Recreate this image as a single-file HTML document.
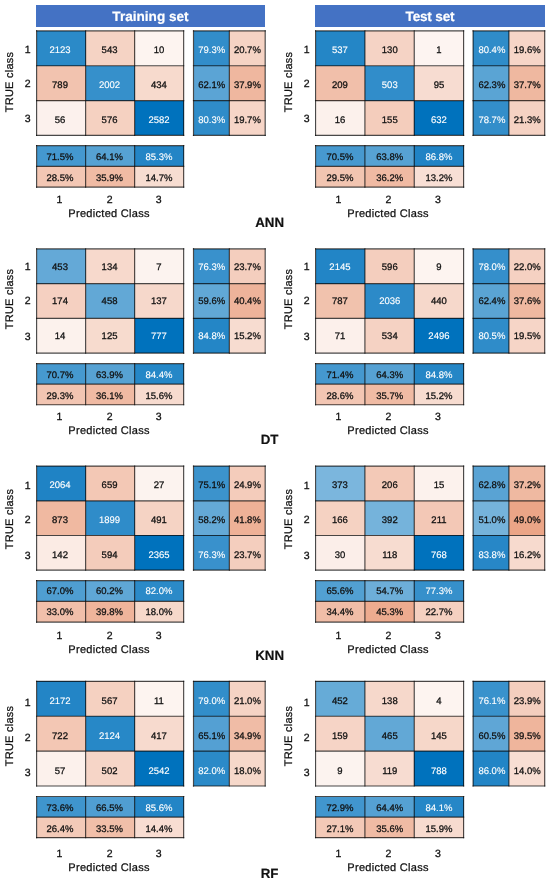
<!DOCTYPE html>
<html lang="en"><head><meta charset="utf-8"><title>Confusion matrices</title>
<style>
html,body{margin:0;padding:0;background:#fff}
body{-webkit-text-stroke:0.18px;text-rendering:geometricPrecision;-webkit-font-smoothing:antialiased;width:550px;height:883px;position:relative;overflow:hidden;font-family:"Liberation Sans",Arial,sans-serif;color:#111}
.c,.t,.h,.l,.g{position:absolute}
.c{font-size:9.5px;display:flex;align-items:center;justify-content:center;color:#111;white-space:nowrap}
.c span{position:relative;top:2.1px;left:0px}
.c{-webkit-text-stroke:0.28px}
.c.w{color:#fff;-webkit-text-stroke:0.12px}
.t{-webkit-text-stroke:0.3px;font-size:10.5px;white-space:nowrap;line-height:12px;height:12px;color:#111}
.x{-webkit-text-stroke:0.25px;font-size:11px;letter-spacing:0.3px;width:120px;text-align:center}
.y{-webkit-text-stroke:0.25px;font-size:11px;letter-spacing:0.25px;width:90px;text-align:center;transform:rotate(-90deg);transform-origin:center center}
.h{background:#4472c4;color:#fff;font-weight:bold;font-size:13.6px;text-align:center;white-space:nowrap}
.l{font-weight:bold;font-size:13.3px;color:#111;white-space:nowrap;text-align:center;width:60px;line-height:14px}
.g{left:0;top:0;pointer-events:none}
.g line{stroke:rgba(10,10,10,0.74);stroke-width:1.15}
</style></head><body>

<div class="h" style="left:36.2px;top:5px;width:228.6px;height:22px;line-height:24px">Training set</div>
<div class="h" style="left:315.1px;top:5px;width:229.7px;height:22px;line-height:24px;letter-spacing:-0.2px">Test set</div>
<!-- ANN / Training set -->
<div class="c w" style="left:36.6px;top:30.9px;width:49.02px;height:34.83px;background:#2b8ac8"><span style="left:-1.1px">2123</span></div>
<div class="c" style="left:85.62px;top:30.9px;width:49.02px;height:34.83px;background:#f5d3c4"><span style="left:-0.6px">543</span></div>
<div class="c" style="left:134.63px;top:30.9px;width:49.02px;height:34.83px;background:#fdf4f0"><span style="left:-0.2px">10</span></div>
<div class="c" style="left:36.6px;top:65.73px;width:49.02px;height:34.83px;background:#f2c3af"><span style="left:-1.1px">789</span></div>
<div class="c w" style="left:85.62px;top:65.73px;width:49.02px;height:34.83px;background:#3690cb"><span style="left:-0.6px">2002</span></div>
<div class="c" style="left:134.63px;top:65.73px;width:49.02px;height:34.83px;background:#f7dacd"><span style="left:-0.2px">434</span></div>
<div class="c" style="left:36.6px;top:100.57px;width:49.02px;height:34.83px;background:#fcf1ed"><span style="left:-1.1px">56</span></div>
<div class="c" style="left:85.62px;top:100.57px;width:49.02px;height:34.83px;background:#f5d1c1"><span style="left:-0.6px">576</span></div>
<div class="c w" style="left:134.63px;top:100.57px;width:49.02px;height:34.83px;background:#0072bd"><span style="left:-0.2px">2582</span></div>
<div class="c w" style="left:193.5px;top:30.9px;width:35.85px;height:34.83px;background:#328dca"><span style="left:0.3px">79.3%</span></div>
<div class="c" style="left:229.35px;top:30.9px;width:35.85px;height:34.83px;background:#f5d3c4"><span style="left:0.1px">20.7%</span></div>
<div class="c" style="left:193.5px;top:65.73px;width:35.85px;height:34.83px;background:#5ba4d5"><span style="left:0.3px">62.1%</span></div>
<div class="c" style="left:229.35px;top:65.73px;width:35.85px;height:34.83px;background:#efb79f"><span style="left:0.1px">37.9%</span></div>
<div class="c w" style="left:193.5px;top:100.57px;width:35.85px;height:34.83px;background:#2f8cc9"><span style="left:0.3px">80.3%</span></div>
<div class="c" style="left:229.35px;top:100.57px;width:35.85px;height:34.83px;background:#f6d5c7"><span style="left:0.1px">19.7%</span></div>
<div class="c" style="left:36.6px;top:145.6px;width:49.02px;height:20.75px;background:#4498cf"><span style="top:1.3px;left:-1.1px">71.5%</span></div>
<div class="c" style="left:85.62px;top:145.6px;width:49.02px;height:20.75px;background:#56a2d3"><span style="top:1.3px;left:-0.6px">64.1%</span></div>
<div class="c w" style="left:134.63px;top:145.6px;width:49.02px;height:20.75px;background:#2385c6"><span style="top:1.3px;left:-0.2px">85.3%</span></div>
<div class="c" style="left:36.6px;top:166.35px;width:49.02px;height:20.75px;background:#f3c7b4"><span style="top:1.3px;left:-1.1px">28.5%</span></div>
<div class="c" style="left:85.62px;top:166.35px;width:49.02px;height:20.75px;background:#f0bba4"><span style="top:1.3px;left:-0.6px">35.9%</span></div>
<div class="c" style="left:134.63px;top:166.35px;width:49.02px;height:20.75px;background:#f7ddd1"><span style="top:1.3px;left:-0.2px">14.7%</span></div>
<div class="t" style="left:10.6px;top:43.92px;width:20px;text-align:right">1</div>
<div class="t" style="left:10.6px;top:77.85px;width:20px;text-align:right">2</div>
<div class="t" style="left:10.6px;top:113.18px;width:20px;text-align:right">3</div>
<div class="t" style="left:49.41px;top:193.5px;width:20px;text-align:center">1</div>
<div class="t" style="left:99.73px;top:193.5px;width:20px;text-align:center">2</div>
<div class="t" style="left:148.74px;top:193.5px;width:20px;text-align:center">3</div>
<div class="t x" style="left:49.12px;top:208.1px">Predicted Class</div>
<div class="t y" style="left:-35.4px;top:76.35px">TRUE class</div>
<!-- ANN / Test set -->
<div class="c w" style="left:315.55px;top:30.9px;width:49.35px;height:34.83px;background:#2486c6"><span style="left:-0.3px">537</span></div>
<div class="c" style="left:364.9px;top:30.9px;width:49.35px;height:34.83px;background:#f5d3c5"><span style="left:0.2px">130</span></div>
<div class="c" style="left:414.25px;top:30.9px;width:49.35px;height:34.83px;background:#fdf4f1"><span>1</span></div>
<div class="c" style="left:315.55px;top:65.73px;width:49.35px;height:34.83px;background:#f1bfaa"><span style="left:-0.3px">209</span></div>
<div class="c w" style="left:364.9px;top:65.73px;width:49.35px;height:34.83px;background:#318dca"><span style="left:0.2px">503</span></div>
<div class="c" style="left:414.25px;top:65.73px;width:49.35px;height:34.83px;background:#f7dcd1"><span>95</span></div>
<div class="c" style="left:315.55px;top:100.57px;width:49.35px;height:34.83px;background:#fcf1ec"><span style="left:-0.3px">16</span></div>
<div class="c" style="left:364.9px;top:100.57px;width:49.35px;height:34.83px;background:#f4cdbc"><span style="left:0.2px">155</span></div>
<div class="c w" style="left:414.25px;top:100.57px;width:49.35px;height:34.83px;background:#0072bd"><span>632</span></div>
<div class="c w" style="left:473.1px;top:30.9px;width:35.8px;height:34.83px;background:#2f8cc9"><span style="left:0.9px">80.4%</span></div>
<div class="c" style="left:508.9px;top:30.9px;width:35.8px;height:34.83px;background:#f6d5c7"><span style="left:0.4px">19.6%</span></div>
<div class="c" style="left:473.1px;top:65.73px;width:35.8px;height:34.83px;background:#5aa4d4"><span style="left:0.9px">62.3%</span></div>
<div class="c" style="left:508.9px;top:65.73px;width:35.8px;height:34.83px;background:#efb8a0"><span style="left:0.4px">37.7%</span></div>
<div class="c w" style="left:473.1px;top:100.57px;width:35.8px;height:34.83px;background:#338eca"><span style="left:0.9px">78.7%</span></div>
<div class="c" style="left:508.9px;top:100.57px;width:35.8px;height:34.83px;background:#f5d2c3"><span style="left:0.4px">21.3%</span></div>
<div class="c" style="left:315.55px;top:145.6px;width:49.35px;height:20.75px;background:#4799cf"><span style="top:1.3px;left:-0.3px">70.5%</span></div>
<div class="c" style="left:364.9px;top:145.6px;width:49.35px;height:20.75px;background:#57a2d3"><span style="top:1.3px;left:0.2px">63.8%</span></div>
<div class="c w" style="left:414.25px;top:145.6px;width:49.35px;height:20.75px;background:#2083c5"><span style="top:1.3px">86.8%</span></div>
<div class="c" style="left:315.55px;top:166.35px;width:49.35px;height:20.75px;background:#f2c5b1"><span style="top:1.3px;left:-0.3px">29.5%</span></div>
<div class="c" style="left:364.9px;top:166.35px;width:49.35px;height:20.75px;background:#f0baa3"><span style="top:1.3px;left:0.2px">36.2%</span></div>
<div class="c" style="left:414.25px;top:166.35px;width:49.35px;height:20.75px;background:#f8dfd5"><span style="top:1.3px">13.2%</span></div>
<div class="t" style="left:289.55px;top:43.92px;width:20px;text-align:right">1</div>
<div class="t" style="left:289.55px;top:77.85px;width:20px;text-align:right">2</div>
<div class="t" style="left:289.55px;top:113.18px;width:20px;text-align:right">3</div>
<div class="t" style="left:328.43px;top:193.5px;width:20px;text-align:center">1</div>
<div class="t" style="left:378.38px;top:193.5px;width:20px;text-align:center">2</div>
<div class="t" style="left:427.93px;top:193.5px;width:20px;text-align:center">3</div>
<div class="t x" style="left:328.08px;top:208.1px">Predicted Class</div>
<div class="t y" style="left:243.55px;top:76.35px">TRUE class</div>
<div class="l" style="left:239.6px;top:216.4px">ANN</div>
<!-- DT / Training set -->
<div class="c" style="left:36.6px;top:248.8px;width:49.02px;height:34.78px;background:#64a9d7"><span style="top:0.9px;left:-1.1px">453</span></div>
<div class="c" style="left:85.62px;top:248.8px;width:49.02px;height:34.78px;background:#f7d9cc"><span style="top:0.9px;left:-0.6px">134</span></div>
<div class="c" style="left:134.63px;top:248.8px;width:49.02px;height:34.78px;background:#fcf3ef"><span style="top:0.9px;left:-0.2px">7</span></div>
<div class="c" style="left:36.6px;top:283.58px;width:49.02px;height:34.78px;background:#f5d0c1"><span style="top:0.9px;left:-1.1px">174</span></div>
<div class="c" style="left:85.62px;top:283.58px;width:49.02px;height:34.78px;background:#62a8d6"><span style="top:0.9px;left:-0.6px">458</span></div>
<div class="c" style="left:134.63px;top:283.58px;width:49.02px;height:34.78px;background:#f6d8cb"><span style="top:0.9px;left:-0.2px">137</span></div>
<div class="c" style="left:36.6px;top:318.37px;width:49.02px;height:34.78px;background:#fcf2ed"><span style="top:0.9px;left:-1.1px">14</span></div>
<div class="c" style="left:85.62px;top:318.37px;width:49.02px;height:34.78px;background:#f7dbce"><span style="top:0.9px;left:-0.6px">125</span></div>
<div class="c w" style="left:134.63px;top:318.37px;width:49.02px;height:34.78px;background:#0072bd"><span style="top:0.9px;left:-0.2px">777</span></div>
<div class="c w" style="left:193.5px;top:248.8px;width:35.85px;height:34.78px;background:#3991cc"><span style="top:0.9px;left:0.3px">76.3%</span></div>
<div class="c" style="left:229.35px;top:248.8px;width:35.85px;height:34.78px;background:#f4cebe"><span style="top:0.9px;left:0.1px">23.7%</span></div>
<div class="c" style="left:193.5px;top:283.58px;width:35.85px;height:34.78px;background:#61a8d6"><span style="top:0.9px;left:0.3px">59.6%</span></div>
<div class="c" style="left:229.35px;top:283.58px;width:35.85px;height:34.78px;background:#eeb39a"><span style="top:0.9px;left:0.1px">40.4%</span></div>
<div class="c w" style="left:193.5px;top:318.37px;width:35.85px;height:34.78px;background:#2486c6"><span style="top:0.9px;left:0.3px">84.8%</span></div>
<div class="c" style="left:229.35px;top:318.37px;width:35.85px;height:34.78px;background:#f7dcd0"><span style="top:0.9px;left:0.1px">15.2%</span></div>
<div class="c" style="left:36.6px;top:363.6px;width:49.02px;height:20.57px;background:#4699cf"><span style="top:1.7px;left:-1.1px">70.7%</span></div>
<div class="c" style="left:85.62px;top:363.6px;width:49.02px;height:20.57px;background:#57a2d3"><span style="top:1.7px;left:-0.6px">63.9%</span></div>
<div class="c w" style="left:134.63px;top:363.6px;width:49.02px;height:20.57px;background:#2587c7"><span style="top:1.7px;left:-0.2px">84.4%</span></div>
<div class="c" style="left:36.6px;top:384.18px;width:49.02px;height:20.57px;background:#f2c5b2"><span style="top:1.7px;left:-1.1px">29.3%</span></div>
<div class="c" style="left:85.62px;top:384.18px;width:49.02px;height:20.57px;background:#f0baa3"><span style="top:1.7px;left:-0.6px">36.1%</span></div>
<div class="c" style="left:134.63px;top:384.18px;width:49.02px;height:20.57px;background:#f7dbcf"><span style="top:1.7px;left:-0.2px">15.6%</span></div>
<div class="t" style="left:10.6px;top:261.09px;width:20px;text-align:right">1</div>
<div class="t" style="left:10.6px;top:294.68px;width:20px;text-align:right">2</div>
<div class="t" style="left:10.6px;top:330.61px;width:20px;text-align:right">3</div>
<div class="t" style="left:49.41px;top:410.8px;width:20px;text-align:center">1</div>
<div class="t" style="left:99.73px;top:410.8px;width:20px;text-align:center">2</div>
<div class="t" style="left:148.74px;top:410.8px;width:20px;text-align:center">3</div>
<div class="t x" style="left:49.12px;top:425.1px">Predicted Class</div>
<div class="t y" style="left:-35.4px;top:292.78px">TRUE class</div>
<!-- DT / Test set -->
<div class="c w" style="left:315.55px;top:248.8px;width:49.35px;height:34.78px;background:#2285c6"><span style="top:0.9px;left:-0.3px">2145</span></div>
<div class="c" style="left:364.9px;top:248.8px;width:49.35px;height:34.78px;background:#f4cebe"><span style="top:0.9px;left:0.2px">596</span></div>
<div class="c" style="left:414.25px;top:248.8px;width:49.35px;height:34.78px;background:#fdf4f0"><span style="top:0.9px">9</span></div>
<div class="c" style="left:315.55px;top:283.58px;width:49.35px;height:34.78px;background:#f1c2ad"><span style="top:0.9px;left:-0.3px">787</span></div>
<div class="c w" style="left:364.9px;top:283.58px;width:49.35px;height:34.78px;background:#2c8ac8"><span style="top:0.9px;left:0.2px">2036</span></div>
<div class="c" style="left:414.25px;top:283.58px;width:49.35px;height:34.78px;background:#f6d8cb"><span style="top:0.9px">440</span></div>
<div class="c" style="left:315.55px;top:318.37px;width:49.35px;height:34.78px;background:#fcf0eb"><span style="top:0.9px;left:-0.3px">71</span></div>
<div class="c" style="left:364.9px;top:318.37px;width:49.35px;height:34.78px;background:#f5d2c3"><span style="top:0.9px;left:0.2px">534</span></div>
<div class="c w" style="left:414.25px;top:318.37px;width:49.35px;height:34.78px;background:#0072bd"><span style="top:0.9px">2496</span></div>
<div class="c w" style="left:473.1px;top:248.8px;width:35.8px;height:34.78px;background:#358fcb"><span style="top:0.9px;left:0.9px">78.0%</span></div>
<div class="c" style="left:508.9px;top:248.8px;width:35.8px;height:34.78px;background:#f5d1c2"><span style="top:0.9px;left:0.4px">22.0%</span></div>
<div class="c" style="left:473.1px;top:283.58px;width:35.8px;height:34.78px;background:#5aa4d4"><span style="top:0.9px;left:0.9px">62.4%</span></div>
<div class="c" style="left:508.9px;top:283.58px;width:35.8px;height:34.78px;background:#efb8a0"><span style="top:0.9px;left:0.4px">37.6%</span></div>
<div class="c w" style="left:473.1px;top:318.37px;width:35.8px;height:34.78px;background:#2f8cc9"><span style="top:0.9px;left:0.9px">80.5%</span></div>
<div class="c" style="left:508.9px;top:318.37px;width:35.8px;height:34.78px;background:#f6d5c7"><span style="top:0.9px;left:0.4px">19.5%</span></div>
<div class="c" style="left:315.55px;top:363.6px;width:49.35px;height:20.57px;background:#4598cf"><span style="top:1.7px;left:-0.3px">71.4%</span></div>
<div class="c" style="left:364.9px;top:363.6px;width:49.35px;height:20.57px;background:#56a1d3"><span style="top:1.7px;left:0.2px">64.3%</span></div>
<div class="c w" style="left:414.25px;top:363.6px;width:49.35px;height:20.57px;background:#2486c6"><span style="top:1.7px">84.8%</span></div>
<div class="c" style="left:315.55px;top:384.18px;width:49.35px;height:20.57px;background:#f3c6b3"><span style="top:1.7px;left:-0.3px">28.6%</span></div>
<div class="c" style="left:364.9px;top:384.18px;width:49.35px;height:20.57px;background:#f0bba4"><span style="top:1.7px;left:0.2px">35.7%</span></div>
<div class="c" style="left:414.25px;top:384.18px;width:49.35px;height:20.57px;background:#f7dcd0"><span style="top:1.7px">15.2%</span></div>
<div class="t" style="left:289.55px;top:261.09px;width:20px;text-align:right">1</div>
<div class="t" style="left:289.55px;top:294.68px;width:20px;text-align:right">2</div>
<div class="t" style="left:289.55px;top:330.61px;width:20px;text-align:right">3</div>
<div class="t" style="left:328.43px;top:410.8px;width:20px;text-align:center">1</div>
<div class="t" style="left:378.38px;top:410.8px;width:20px;text-align:center">2</div>
<div class="t" style="left:427.93px;top:410.8px;width:20px;text-align:center">3</div>
<div class="t x" style="left:328.08px;top:425.1px">Predicted Class</div>
<div class="t y" style="left:243.55px;top:292.78px">TRUE class</div>
<div class="l" style="left:239.6px;top:433.4px">DT</div>
<!-- KNN / Training set -->
<div class="c w" style="left:36.6px;top:466.15px;width:49.02px;height:34.65px;background:#1f83c5"><span style="top:2.5px;left:-1.1px">2064</span></div>
<div class="c" style="left:85.62px;top:466.15px;width:49.02px;height:34.65px;background:#f3c8b5"><span style="top:2.5px;left:-0.6px">659</span></div>
<div class="c" style="left:134.63px;top:466.15px;width:49.02px;height:34.65px;background:#fcf3ef"><span style="top:2.5px;left:-0.2px">27</span></div>
<div class="c" style="left:36.6px;top:500.8px;width:49.02px;height:34.65px;background:#f0b9a1"><span style="top:2.5px;left:-1.1px">873</span></div>
<div class="c w" style="left:85.62px;top:500.8px;width:49.02px;height:34.65px;background:#2f8cc9"><span style="top:2.5px;left:-0.6px">1899</span></div>
<div class="c" style="left:134.63px;top:500.8px;width:49.02px;height:34.65px;background:#f5d3c4"><span style="top:2.5px;left:-0.2px">491</span></div>
<div class="c" style="left:36.6px;top:535.45px;width:49.02px;height:34.65px;background:#fbebe4"><span style="top:2.5px;left:-1.1px">142</span></div>
<div class="c" style="left:85.62px;top:535.45px;width:49.02px;height:34.65px;background:#f4ccbb"><span style="top:2.5px;left:-0.6px">594</span></div>
<div class="c w" style="left:134.63px;top:535.45px;width:49.02px;height:34.65px;background:#0072bd"><span style="top:2.5px;left:-0.2px">2365</span></div>
<div class="c" style="left:193.5px;top:466.15px;width:35.85px;height:34.65px;background:#3c93cc"><span style="top:2.5px;left:0.3px">75.1%</span></div>
<div class="c" style="left:229.35px;top:466.15px;width:35.85px;height:34.65px;background:#f4ccbb"><span style="top:2.5px;left:0.1px">24.9%</span></div>
<div class="c" style="left:193.5px;top:500.8px;width:35.85px;height:34.65px;background:#64a9d7"><span style="top:2.5px;left:0.3px">58.2%</span></div>
<div class="c" style="left:229.35px;top:500.8px;width:35.85px;height:34.65px;background:#eeb197"><span style="top:2.5px;left:0.1px">41.8%</span></div>
<div class="c w" style="left:193.5px;top:535.45px;width:35.85px;height:34.65px;background:#3991cc"><span style="top:2.5px;left:0.3px">76.3%</span></div>
<div class="c" style="left:229.35px;top:535.45px;width:35.85px;height:34.65px;background:#f4cebe"><span style="top:2.5px;left:0.1px">23.7%</span></div>
<div class="c" style="left:36.6px;top:580.6px;width:49.02px;height:20.75px;background:#4f9ed1"><span style="top:0.6px;left:-1.1px">67.0%</span></div>
<div class="c" style="left:85.62px;top:580.6px;width:49.02px;height:20.75px;background:#5fa7d6"><span style="top:0.6px;left:-0.6px">60.2%</span></div>
<div class="c w" style="left:134.63px;top:580.6px;width:49.02px;height:20.75px;background:#2b8ac8"><span style="top:0.6px;left:-0.2px">82.0%</span></div>
<div class="c" style="left:36.6px;top:601.35px;width:49.02px;height:20.75px;background:#f1bfaa"><span style="top:0.6px;left:-1.1px">33.0%</span></div>
<div class="c" style="left:85.62px;top:601.35px;width:49.02px;height:20.75px;background:#efb49b"><span style="top:0.6px;left:-0.6px">39.8%</span></div>
<div class="c" style="left:134.63px;top:601.35px;width:49.02px;height:20.75px;background:#f6d8ca"><span style="top:0.6px;left:-0.2px">18.0%</span></div>
<div class="t" style="left:10.6px;top:480.08px;width:20px;text-align:right">1</div>
<div class="t" style="left:10.6px;top:514.18px;width:20px;text-align:right">2</div>
<div class="t" style="left:10.6px;top:549.68px;width:20px;text-align:right">3</div>
<div class="t" style="left:49.41px;top:629.65px;width:20px;text-align:center">1</div>
<div class="t" style="left:99.73px;top:629.65px;width:20px;text-align:center">2</div>
<div class="t" style="left:148.74px;top:629.65px;width:20px;text-align:center">3</div>
<div class="t x" style="left:49.12px;top:644.45px">Predicted Class</div>
<div class="t y" style="left:-35.4px;top:513.12px">TRUE class</div>
<!-- KNN / Test set -->
<div class="c" style="left:315.55px;top:466.15px;width:49.35px;height:34.65px;background:#7bb6dd"><span style="top:2.5px;left:-0.3px">373</span></div>
<div class="c" style="left:364.9px;top:466.15px;width:49.35px;height:34.65px;background:#f3c9b7"><span style="top:2.5px;left:0.2px">206</span></div>
<div class="c" style="left:414.25px;top:466.15px;width:49.35px;height:34.65px;background:#fcf2ed"><span style="top:2.5px">15</span></div>
<div class="c" style="left:315.55px;top:500.8px;width:49.35px;height:34.65px;background:#f5d2c2"><span style="top:2.5px;left:-0.3px">166</span></div>
<div class="c" style="left:364.9px;top:500.8px;width:49.35px;height:34.65px;background:#75b3db"><span style="top:2.5px;left:0.2px">392</span></div>
<div class="c" style="left:414.25px;top:500.8px;width:49.35px;height:34.65px;background:#f3c8b6"><span style="top:2.5px">211</span></div>
<div class="c" style="left:315.55px;top:535.45px;width:49.35px;height:34.65px;background:#fbeee9"><span style="top:2.5px;left:-0.3px">30</span></div>
<div class="c" style="left:364.9px;top:535.45px;width:49.35px;height:34.65px;background:#f7dcd0"><span style="top:2.5px;left:0.2px">118</span></div>
<div class="c w" style="left:414.25px;top:535.45px;width:49.35px;height:34.65px;background:#0072bd"><span style="top:2.5px">768</span></div>
<div class="c" style="left:473.1px;top:466.15px;width:35.8px;height:34.65px;background:#59a3d4"><span style="top:2.5px;left:0.9px">62.8%</span></div>
<div class="c" style="left:508.9px;top:466.15px;width:35.8px;height:34.65px;background:#efb9a1"><span style="top:2.5px;left:0.4px">37.2%</span></div>
<div class="c" style="left:473.1px;top:500.8px;width:35.8px;height:34.65px;background:#75b3db"><span style="top:2.5px;left:0.9px">51.0%</span></div>
<div class="c" style="left:508.9px;top:500.8px;width:35.8px;height:34.65px;background:#eba587"><span style="top:2.5px;left:0.4px">49.0%</span></div>
<div class="c w" style="left:473.1px;top:535.45px;width:35.8px;height:34.65px;background:#2787c7"><span style="top:2.5px;left:0.9px">83.8%</span></div>
<div class="c" style="left:508.9px;top:535.45px;width:35.8px;height:34.65px;background:#f7dace"><span style="top:2.5px;left:0.4px">16.2%</span></div>
<div class="c" style="left:315.55px;top:580.6px;width:49.35px;height:20.75px;background:#52a0d2"><span style="top:0.6px;left:-0.3px">65.6%</span></div>
<div class="c" style="left:364.9px;top:580.6px;width:49.35px;height:20.75px;background:#6daed9"><span style="top:0.6px;left:0.2px">54.7%</span></div>
<div class="c w" style="left:414.25px;top:580.6px;width:49.35px;height:20.75px;background:#3690cb"><span style="top:0.6px">77.3%</span></div>
<div class="c" style="left:315.55px;top:601.35px;width:49.35px;height:20.75px;background:#f0bda7"><span style="top:0.6px;left:-0.3px">34.4%</span></div>
<div class="c" style="left:364.9px;top:601.35px;width:49.35px;height:20.75px;background:#edab8f"><span style="top:0.6px;left:0.2px">45.3%</span></div>
<div class="c" style="left:414.25px;top:601.35px;width:49.35px;height:20.75px;background:#f5d0c0"><span style="top:0.6px">22.7%</span></div>
<div class="t" style="left:289.55px;top:480.08px;width:20px;text-align:right">1</div>
<div class="t" style="left:289.55px;top:514.18px;width:20px;text-align:right">2</div>
<div class="t" style="left:289.55px;top:549.68px;width:20px;text-align:right">3</div>
<div class="t" style="left:328.43px;top:629.65px;width:20px;text-align:center">1</div>
<div class="t" style="left:378.38px;top:629.65px;width:20px;text-align:center">2</div>
<div class="t" style="left:427.93px;top:629.65px;width:20px;text-align:center">3</div>
<div class="t x" style="left:328.08px;top:644.45px">Predicted Class</div>
<div class="t y" style="left:243.55px;top:513.12px">TRUE class</div>
<div class="l" style="left:239.6px;top:648.5px">KNN</div>
<!-- RF / Training set -->
<div class="c w" style="left:36.6px;top:681.4px;width:49.02px;height:34.85px;background:#2385c6"><span style="top:3px;left:-1.1px">2172</span></div>
<div class="c" style="left:85.62px;top:681.4px;width:49.02px;height:34.85px;background:#f5d1c1"><span style="top:3px;left:-0.6px">567</span></div>
<div class="c" style="left:134.63px;top:681.4px;width:49.02px;height:34.85px;background:#fdf4f0"><span style="top:3px;left:-0.2px">11</span></div>
<div class="c" style="left:36.6px;top:716.25px;width:49.02px;height:34.85px;background:#f3c7b4"><span style="top:3px;left:-1.1px">722</span></div>
<div class="c w" style="left:85.62px;top:716.25px;width:49.02px;height:34.85px;background:#2788c7"><span style="top:3px;left:-0.6px">2124</span></div>
<div class="c" style="left:134.63px;top:716.25px;width:49.02px;height:34.85px;background:#f7dace"><span style="top:3px;left:-0.2px">417</span></div>
<div class="c" style="left:36.6px;top:751.1px;width:49.02px;height:34.85px;background:#fcf1ec"><span style="top:3px;left:-1.1px">57</span></div>
<div class="c" style="left:85.62px;top:751.1px;width:49.02px;height:34.85px;background:#f6d5c7"><span style="top:3px;left:-0.6px">502</span></div>
<div class="c w" style="left:134.63px;top:751.1px;width:49.02px;height:34.85px;background:#0072bd"><span style="top:3px;left:-0.2px">2542</span></div>
<div class="c w" style="left:193.5px;top:681.4px;width:35.85px;height:34.85px;background:#328eca"><span style="top:3px;left:0.3px">79.0%</span></div>
<div class="c" style="left:229.35px;top:681.4px;width:35.85px;height:34.85px;background:#f5d3c4"><span style="top:3px;left:0.1px">21.0%</span></div>
<div class="c" style="left:193.5px;top:716.25px;width:35.85px;height:34.85px;background:#54a0d3"><span style="top:3px;left:0.3px">65.1%</span></div>
<div class="c" style="left:229.35px;top:716.25px;width:35.85px;height:34.85px;background:#f0bca6"><span style="top:3px;left:0.1px">34.9%</span></div>
<div class="c w" style="left:193.5px;top:751.1px;width:35.85px;height:34.85px;background:#2b8ac8"><span style="top:3px;left:0.3px">82.0%</span></div>
<div class="c" style="left:229.35px;top:751.1px;width:35.85px;height:34.85px;background:#f6d8ca"><span style="top:3px;left:0.1px">18.0%</span></div>
<div class="c" style="left:36.6px;top:796.5px;width:49.02px;height:20.55px;background:#3f95cd"><span style="top:1.8px;left:-1.1px">73.6%</span></div>
<div class="c" style="left:85.62px;top:796.5px;width:49.02px;height:20.55px;background:#509ed2"><span style="top:1.8px;left:-0.6px">66.5%</span></div>
<div class="c w" style="left:134.63px;top:796.5px;width:49.02px;height:20.55px;background:#2385c6"><span style="top:1.8px;left:-0.2px">85.6%</span></div>
<div class="c" style="left:36.6px;top:817.05px;width:49.02px;height:20.55px;background:#f3cab8"><span style="top:1.8px;left:-1.1px">26.4%</span></div>
<div class="c" style="left:85.62px;top:817.05px;width:49.02px;height:20.55px;background:#f1bfa9"><span style="top:1.8px;left:-0.6px">33.5%</span></div>
<div class="c" style="left:134.63px;top:817.05px;width:49.02px;height:20.55px;background:#f8ddd2"><span style="top:1.8px;left:-0.2px">14.4%</span></div>
<div class="t" style="left:10.6px;top:697.33px;width:20px;text-align:right">1</div>
<div class="t" style="left:10.6px;top:731.57px;width:20px;text-align:right">2</div>
<div class="t" style="left:10.6px;top:767.13px;width:20px;text-align:right">3</div>
<div class="t" style="left:49.41px;top:847.6px;width:20px;text-align:center">1</div>
<div class="t" style="left:99.73px;top:847.6px;width:20px;text-align:center">2</div>
<div class="t" style="left:148.74px;top:847.6px;width:20px;text-align:center">3</div>
<div class="t x" style="left:49.12px;top:862.2px">Predicted Class</div>
<div class="t y" style="left:-35.4px;top:729.57px">TRUE class</div>
<!-- RF / Test set -->
<div class="c" style="left:315.55px;top:681.4px;width:49.35px;height:34.85px;background:#66abd7"><span style="top:3px;left:-0.3px">452</span></div>
<div class="c" style="left:364.9px;top:681.4px;width:49.35px;height:34.85px;background:#f6d8cb"><span style="top:3px;left:0.2px">138</span></div>
<div class="c" style="left:414.25px;top:681.4px;width:49.35px;height:34.85px;background:#fdf4f0"><span style="top:3px">4</span></div>
<div class="c" style="left:315.55px;top:716.25px;width:49.35px;height:34.85px;background:#f6d4c6"><span style="top:3px;left:-0.3px">159</span></div>
<div class="c" style="left:364.9px;top:716.25px;width:49.35px;height:34.85px;background:#62a8d6"><span style="top:3px;left:0.2px">465</span></div>
<div class="c" style="left:414.25px;top:716.25px;width:49.35px;height:34.85px;background:#f6d7c9"><span style="top:3px">145</span></div>
<div class="c" style="left:315.55px;top:751.1px;width:49.35px;height:34.85px;background:#fcf3ef"><span style="top:3px;left:-0.3px">9</span></div>
<div class="c" style="left:364.9px;top:751.1px;width:49.35px;height:34.85px;background:#f7dcd1"><span style="top:3px;left:0.2px">119</span></div>
<div class="c w" style="left:414.25px;top:751.1px;width:49.35px;height:34.85px;background:#0072bd"><span style="top:3px">788</span></div>
<div class="c w" style="left:473.1px;top:681.4px;width:35.8px;height:34.85px;background:#3992cc"><span style="top:3px;left:0.9px">76.1%</span></div>
<div class="c" style="left:508.9px;top:681.4px;width:35.8px;height:34.85px;background:#f4cebe"><span style="top:3px;left:0.4px">23.9%</span></div>
<div class="c" style="left:473.1px;top:716.25px;width:35.8px;height:34.85px;background:#5fa6d6"><span style="top:3px;left:0.9px">60.5%</span></div>
<div class="c" style="left:508.9px;top:716.25px;width:35.8px;height:34.85px;background:#efb59c"><span style="top:3px;left:0.4px">39.5%</span></div>
<div class="c w" style="left:473.1px;top:751.1px;width:35.8px;height:34.85px;background:#2285c6"><span style="top:3px;left:0.9px">86.0%</span></div>
<div class="c" style="left:508.9px;top:751.1px;width:35.8px;height:34.85px;background:#f8ded3"><span style="top:3px;left:0.4px">14.0%</span></div>
<div class="c" style="left:315.55px;top:796.5px;width:49.35px;height:20.55px;background:#4196ce"><span style="top:1.8px;left:-0.3px">72.9%</span></div>
<div class="c" style="left:364.9px;top:796.5px;width:49.35px;height:20.55px;background:#55a1d3"><span style="top:1.8px;left:0.2px">64.4%</span></div>
<div class="c w" style="left:414.25px;top:796.5px;width:49.35px;height:20.55px;background:#2687c7"><span style="top:1.8px">84.1%</span></div>
<div class="c" style="left:315.55px;top:817.05px;width:49.35px;height:20.55px;background:#f3c9b7"><span style="top:1.8px;left:-0.3px">27.1%</span></div>
<div class="c" style="left:364.9px;top:817.05px;width:49.35px;height:20.55px;background:#f0bba4"><span style="top:1.8px;left:0.2px">35.6%</span></div>
<div class="c" style="left:414.25px;top:817.05px;width:49.35px;height:20.55px;background:#f7dbcf"><span style="top:1.8px">15.9%</span></div>
<div class="t" style="left:289.55px;top:697.33px;width:20px;text-align:right">1</div>
<div class="t" style="left:289.55px;top:731.57px;width:20px;text-align:right">2</div>
<div class="t" style="left:289.55px;top:767.13px;width:20px;text-align:right">3</div>
<div class="t" style="left:328.43px;top:847.6px;width:20px;text-align:center">1</div>
<div class="t" style="left:378.38px;top:847.6px;width:20px;text-align:center">2</div>
<div class="t" style="left:427.93px;top:847.6px;width:20px;text-align:center">3</div>
<div class="t x" style="left:328.08px;top:862.2px">Predicted Class</div>
<div class="t y" style="left:243.55px;top:729.57px">TRUE class</div>
<div class="l" style="left:239.6px;top:866.8px">RF</div>
<svg class="g" width="550" height="883" viewBox="0 0 550 883">
<line x1="36.6" y1="30.32" x2="36.6" y2="135.97"/>
<line x1="85.62" y1="30.32" x2="85.62" y2="135.97"/>
<line x1="134.63" y1="30.32" x2="134.63" y2="135.97"/>
<line x1="183.65" y1="30.32" x2="183.65" y2="135.97"/>
<line x1="36.02" y1="30.9" x2="184.22" y2="30.9"/>
<line x1="36.02" y1="65.73" x2="184.22" y2="65.73"/>
<line x1="36.02" y1="100.57" x2="184.22" y2="100.57"/>
<line x1="36.02" y1="135.4" x2="184.22" y2="135.4"/>
<line x1="193.5" y1="30.32" x2="193.5" y2="135.97"/>
<line x1="229.35" y1="30.32" x2="229.35" y2="135.97"/>
<line x1="265.2" y1="30.32" x2="265.2" y2="135.97"/>
<line x1="192.93" y1="30.9" x2="265.77" y2="30.9"/>
<line x1="192.93" y1="65.73" x2="265.77" y2="65.73"/>
<line x1="192.93" y1="100.57" x2="265.77" y2="100.57"/>
<line x1="192.93" y1="135.4" x2="265.77" y2="135.4"/>
<line x1="36.6" y1="145.03" x2="36.6" y2="187.67"/>
<line x1="85.62" y1="145.03" x2="85.62" y2="187.67"/>
<line x1="134.63" y1="145.03" x2="134.63" y2="187.67"/>
<line x1="183.65" y1="145.03" x2="183.65" y2="187.67"/>
<line x1="36.02" y1="145.6" x2="184.22" y2="145.6"/>
<line x1="36.02" y1="166.35" x2="184.22" y2="166.35"/>
<line x1="36.02" y1="187.1" x2="184.22" y2="187.1"/>
<line x1="315.55" y1="30.32" x2="315.55" y2="135.97"/>
<line x1="364.9" y1="30.32" x2="364.9" y2="135.97"/>
<line x1="414.25" y1="30.32" x2="414.25" y2="135.97"/>
<line x1="463.6" y1="30.32" x2="463.6" y2="135.97"/>
<line x1="314.98" y1="30.9" x2="464.18" y2="30.9"/>
<line x1="314.98" y1="65.73" x2="464.18" y2="65.73"/>
<line x1="314.98" y1="100.57" x2="464.18" y2="100.57"/>
<line x1="314.98" y1="135.4" x2="464.18" y2="135.4"/>
<line x1="473.1" y1="30.32" x2="473.1" y2="135.97"/>
<line x1="508.9" y1="30.32" x2="508.9" y2="135.97"/>
<line x1="544.7" y1="30.32" x2="544.7" y2="135.97"/>
<line x1="472.53" y1="30.9" x2="545.28" y2="30.9"/>
<line x1="472.53" y1="65.73" x2="545.28" y2="65.73"/>
<line x1="472.53" y1="100.57" x2="545.28" y2="100.57"/>
<line x1="472.53" y1="135.4" x2="545.28" y2="135.4"/>
<line x1="315.55" y1="145.03" x2="315.55" y2="187.67"/>
<line x1="364.9" y1="145.03" x2="364.9" y2="187.67"/>
<line x1="414.25" y1="145.03" x2="414.25" y2="187.67"/>
<line x1="463.6" y1="145.03" x2="463.6" y2="187.67"/>
<line x1="314.98" y1="145.6" x2="464.18" y2="145.6"/>
<line x1="314.98" y1="166.35" x2="464.18" y2="166.35"/>
<line x1="314.98" y1="187.1" x2="464.18" y2="187.1"/>
<line x1="36.6" y1="248.23" x2="36.6" y2="353.72"/>
<line x1="85.62" y1="248.23" x2="85.62" y2="353.72"/>
<line x1="134.63" y1="248.23" x2="134.63" y2="353.72"/>
<line x1="183.65" y1="248.23" x2="183.65" y2="353.72"/>
<line x1="36.02" y1="248.8" x2="184.22" y2="248.8"/>
<line x1="36.02" y1="283.58" x2="184.22" y2="283.58"/>
<line x1="36.02" y1="318.37" x2="184.22" y2="318.37"/>
<line x1="36.02" y1="353.15" x2="184.22" y2="353.15"/>
<line x1="193.5" y1="248.23" x2="193.5" y2="353.72"/>
<line x1="229.35" y1="248.23" x2="229.35" y2="353.72"/>
<line x1="265.2" y1="248.23" x2="265.2" y2="353.72"/>
<line x1="192.93" y1="248.8" x2="265.77" y2="248.8"/>
<line x1="192.93" y1="283.58" x2="265.77" y2="283.58"/>
<line x1="192.93" y1="318.37" x2="265.77" y2="318.37"/>
<line x1="192.93" y1="353.15" x2="265.77" y2="353.15"/>
<line x1="36.6" y1="363.03" x2="36.6" y2="405.32"/>
<line x1="85.62" y1="363.03" x2="85.62" y2="405.32"/>
<line x1="134.63" y1="363.03" x2="134.63" y2="405.32"/>
<line x1="183.65" y1="363.03" x2="183.65" y2="405.32"/>
<line x1="36.02" y1="363.6" x2="184.22" y2="363.6"/>
<line x1="36.02" y1="384.18" x2="184.22" y2="384.18"/>
<line x1="36.02" y1="404.75" x2="184.22" y2="404.75"/>
<line x1="315.55" y1="248.23" x2="315.55" y2="353.72"/>
<line x1="364.9" y1="248.23" x2="364.9" y2="353.72"/>
<line x1="414.25" y1="248.23" x2="414.25" y2="353.72"/>
<line x1="463.6" y1="248.23" x2="463.6" y2="353.72"/>
<line x1="314.98" y1="248.8" x2="464.18" y2="248.8"/>
<line x1="314.98" y1="283.58" x2="464.18" y2="283.58"/>
<line x1="314.98" y1="318.37" x2="464.18" y2="318.37"/>
<line x1="314.98" y1="353.15" x2="464.18" y2="353.15"/>
<line x1="473.1" y1="248.23" x2="473.1" y2="353.72"/>
<line x1="508.9" y1="248.23" x2="508.9" y2="353.72"/>
<line x1="544.7" y1="248.23" x2="544.7" y2="353.72"/>
<line x1="472.53" y1="248.8" x2="545.28" y2="248.8"/>
<line x1="472.53" y1="283.58" x2="545.28" y2="283.58"/>
<line x1="472.53" y1="318.37" x2="545.28" y2="318.37"/>
<line x1="472.53" y1="353.15" x2="545.28" y2="353.15"/>
<line x1="315.55" y1="363.03" x2="315.55" y2="405.32"/>
<line x1="364.9" y1="363.03" x2="364.9" y2="405.32"/>
<line x1="414.25" y1="363.03" x2="414.25" y2="405.32"/>
<line x1="463.6" y1="363.03" x2="463.6" y2="405.32"/>
<line x1="314.98" y1="363.6" x2="464.18" y2="363.6"/>
<line x1="314.98" y1="384.18" x2="464.18" y2="384.18"/>
<line x1="314.98" y1="404.75" x2="464.18" y2="404.75"/>
<line x1="36.6" y1="465.57" x2="36.6" y2="570.68"/>
<line x1="85.62" y1="465.57" x2="85.62" y2="570.68"/>
<line x1="134.63" y1="465.57" x2="134.63" y2="570.68"/>
<line x1="183.65" y1="465.57" x2="183.65" y2="570.68"/>
<line x1="36.02" y1="466.15" x2="184.22" y2="466.15"/>
<line x1="36.02" y1="500.8" x2="184.22" y2="500.8"/>
<line x1="36.02" y1="535.45" x2="184.22" y2="535.45"/>
<line x1="36.02" y1="570.1" x2="184.22" y2="570.1"/>
<line x1="193.5" y1="465.57" x2="193.5" y2="570.68"/>
<line x1="229.35" y1="465.57" x2="229.35" y2="570.68"/>
<line x1="265.2" y1="465.57" x2="265.2" y2="570.68"/>
<line x1="192.93" y1="466.15" x2="265.77" y2="466.15"/>
<line x1="192.93" y1="500.8" x2="265.77" y2="500.8"/>
<line x1="192.93" y1="535.45" x2="265.77" y2="535.45"/>
<line x1="192.93" y1="570.1" x2="265.77" y2="570.1"/>
<line x1="36.6" y1="580.02" x2="36.6" y2="622.68"/>
<line x1="85.62" y1="580.02" x2="85.62" y2="622.68"/>
<line x1="134.63" y1="580.02" x2="134.63" y2="622.68"/>
<line x1="183.65" y1="580.02" x2="183.65" y2="622.68"/>
<line x1="36.02" y1="580.6" x2="184.22" y2="580.6"/>
<line x1="36.02" y1="601.35" x2="184.22" y2="601.35"/>
<line x1="36.02" y1="622.1" x2="184.22" y2="622.1"/>
<line x1="315.55" y1="465.57" x2="315.55" y2="570.68"/>
<line x1="364.9" y1="465.57" x2="364.9" y2="570.68"/>
<line x1="414.25" y1="465.57" x2="414.25" y2="570.68"/>
<line x1="463.6" y1="465.57" x2="463.6" y2="570.68"/>
<line x1="314.98" y1="466.15" x2="464.18" y2="466.15"/>
<line x1="314.98" y1="500.8" x2="464.18" y2="500.8"/>
<line x1="314.98" y1="535.45" x2="464.18" y2="535.45"/>
<line x1="314.98" y1="570.1" x2="464.18" y2="570.1"/>
<line x1="473.1" y1="465.57" x2="473.1" y2="570.68"/>
<line x1="508.9" y1="465.57" x2="508.9" y2="570.68"/>
<line x1="544.7" y1="465.57" x2="544.7" y2="570.68"/>
<line x1="472.53" y1="466.15" x2="545.28" y2="466.15"/>
<line x1="472.53" y1="500.8" x2="545.28" y2="500.8"/>
<line x1="472.53" y1="535.45" x2="545.28" y2="535.45"/>
<line x1="472.53" y1="570.1" x2="545.28" y2="570.1"/>
<line x1="315.55" y1="580.02" x2="315.55" y2="622.68"/>
<line x1="364.9" y1="580.02" x2="364.9" y2="622.68"/>
<line x1="414.25" y1="580.02" x2="414.25" y2="622.68"/>
<line x1="463.6" y1="580.02" x2="463.6" y2="622.68"/>
<line x1="314.98" y1="580.6" x2="464.18" y2="580.6"/>
<line x1="314.98" y1="601.35" x2="464.18" y2="601.35"/>
<line x1="314.98" y1="622.1" x2="464.18" y2="622.1"/>
<line x1="36.6" y1="680.82" x2="36.6" y2="786.53"/>
<line x1="85.62" y1="680.82" x2="85.62" y2="786.53"/>
<line x1="134.63" y1="680.82" x2="134.63" y2="786.53"/>
<line x1="183.65" y1="680.82" x2="183.65" y2="786.53"/>
<line x1="36.02" y1="681.4" x2="184.22" y2="681.4"/>
<line x1="36.02" y1="716.25" x2="184.22" y2="716.25"/>
<line x1="36.02" y1="751.1" x2="184.22" y2="751.1"/>
<line x1="36.02" y1="785.95" x2="184.22" y2="785.95"/>
<line x1="193.5" y1="680.82" x2="193.5" y2="786.53"/>
<line x1="229.35" y1="680.82" x2="229.35" y2="786.53"/>
<line x1="265.2" y1="680.82" x2="265.2" y2="786.53"/>
<line x1="192.93" y1="681.4" x2="265.77" y2="681.4"/>
<line x1="192.93" y1="716.25" x2="265.77" y2="716.25"/>
<line x1="192.93" y1="751.1" x2="265.77" y2="751.1"/>
<line x1="192.93" y1="785.95" x2="265.77" y2="785.95"/>
<line x1="36.6" y1="795.92" x2="36.6" y2="838.18"/>
<line x1="85.62" y1="795.92" x2="85.62" y2="838.18"/>
<line x1="134.63" y1="795.92" x2="134.63" y2="838.18"/>
<line x1="183.65" y1="795.92" x2="183.65" y2="838.18"/>
<line x1="36.02" y1="796.5" x2="184.22" y2="796.5"/>
<line x1="36.02" y1="817.05" x2="184.22" y2="817.05"/>
<line x1="36.02" y1="837.6" x2="184.22" y2="837.6"/>
<line x1="315.55" y1="680.82" x2="315.55" y2="786.53"/>
<line x1="364.9" y1="680.82" x2="364.9" y2="786.53"/>
<line x1="414.25" y1="680.82" x2="414.25" y2="786.53"/>
<line x1="463.6" y1="680.82" x2="463.6" y2="786.53"/>
<line x1="314.98" y1="681.4" x2="464.18" y2="681.4"/>
<line x1="314.98" y1="716.25" x2="464.18" y2="716.25"/>
<line x1="314.98" y1="751.1" x2="464.18" y2="751.1"/>
<line x1="314.98" y1="785.95" x2="464.18" y2="785.95"/>
<line x1="473.1" y1="680.82" x2="473.1" y2="786.53"/>
<line x1="508.9" y1="680.82" x2="508.9" y2="786.53"/>
<line x1="544.7" y1="680.82" x2="544.7" y2="786.53"/>
<line x1="472.53" y1="681.4" x2="545.28" y2="681.4"/>
<line x1="472.53" y1="716.25" x2="545.28" y2="716.25"/>
<line x1="472.53" y1="751.1" x2="545.28" y2="751.1"/>
<line x1="472.53" y1="785.95" x2="545.28" y2="785.95"/>
<line x1="315.55" y1="795.92" x2="315.55" y2="838.18"/>
<line x1="364.9" y1="795.92" x2="364.9" y2="838.18"/>
<line x1="414.25" y1="795.92" x2="414.25" y2="838.18"/>
<line x1="463.6" y1="795.92" x2="463.6" y2="838.18"/>
<line x1="314.98" y1="796.5" x2="464.18" y2="796.5"/>
<line x1="314.98" y1="817.05" x2="464.18" y2="817.05"/>
<line x1="314.98" y1="837.6" x2="464.18" y2="837.6"/>
</svg>
</body></html>
